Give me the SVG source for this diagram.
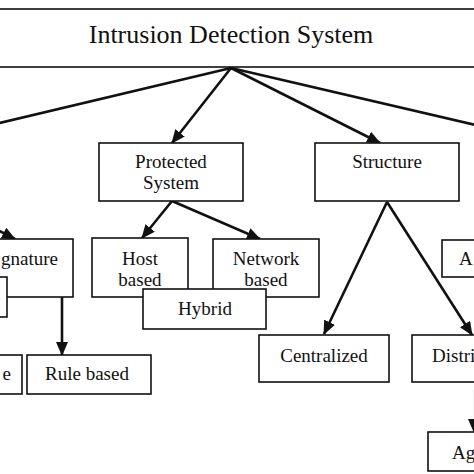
<svg xmlns="http://www.w3.org/2000/svg" width="474" height="474" viewBox="0 0 474 474">
<style>
.box{fill:#fff;stroke:#111;stroke-width:1.6}
.t{font-family:"Liberation Serif","Times New Roman",serif;font-size:19px;fill:#111;text-anchor:middle}
.c{stroke:#111;stroke-width:2.6;fill:none}
</style>
<defs>
<marker id="ah" markerUnits="userSpaceOnUse" markerWidth="14" markerHeight="12" refX="13" refY="6" orient="auto">
<path d="M0,0 L14,6 L0,12 z" fill="#111"/>
</marker>
</defs>
<rect width="474" height="474" fill="#fff"/>
<g id="connectors">
<line class="c" x1="231" y1="68" x2="-5" y2="124"/>
<line class="c" x1="231" y1="68" x2="172" y2="143" marker-end="url(#ah)"/>
<line class="c" x1="231" y1="68" x2="380" y2="143" marker-end="url(#ah)"/>
<line class="c" x1="231" y1="68" x2="480" y2="126"/>
<line class="c" x1="172" y1="201" x2="142" y2="238" marker-end="url(#ah)"/>
<line class="c" x1="172" y1="201" x2="260" y2="239" marker-end="url(#ah)"/>
<line class="c" x1="-10" y1="226" x2="15" y2="239" marker-end="url(#ah)"/>
<line class="c" x1="62" y1="297" x2="62" y2="355" marker-end="url(#ah)"/>
<line class="c" x1="387" y1="202" x2="324" y2="334" marker-end="url(#ah)"/>
<line class="c" x1="387" y1="202" x2="472" y2="335" marker-end="url(#ah)"/>
<line x1="474" y1="390" x2="474" y2="432" stroke="#e4e4e4" stroke-width="1" marker-end="url(#ah)"/>
</g>
<g id="ids">
<rect class="box" x="-5" y="9" width="484" height="58"/>
<text class="t" x="231" y="43" style="font-size:26px">Intrusion Detection System</text>
</g>
<g id="protected">
<rect class="box" x="99" y="143" width="144" height="58"/>
<text class="t" x="171" y="168">Protected</text>
<text class="t" x="171" y="189">System</text>
</g>
<g id="structure">
<rect class="box" x="315" y="143" width="144" height="58"/>
<text class="t" x="387" y="168">Structure</text>
</g>
<g id="signature">
<rect class="box" x="-20" y="239" width="93" height="58"/>
<text class="t" x="58" y="265" style="text-anchor:end">gnature</text>
</g>
<g id="sigchild">
<rect class="box" x="-20" y="277" width="27" height="40"/>
</g>
<g id="host">
<rect class="box" x="92" y="238" width="96" height="59"/>
<text class="t" x="140" y="265">Host</text>
<text class="t" x="140" y="286">based</text>
</g>
<g id="network">
<rect class="box" x="213" y="239" width="106" height="58"/>
<text class="t" x="266" y="265">Network</text>
<text class="t" x="266" y="286">based</text>
</g>
<g id="hybrid">
<rect class="box" x="143" y="289" width="123" height="40"/>
<text class="t" x="205" y="315">Hybrid</text>
</g>
<g id="a-node">
<rect class="box" x="442" y="240" width="40" height="37"/>
<text class="t" x="459" y="265" style="text-anchor:start">A</text>
</g>
<g id="leftleaf">
<rect class="box" x="-40" y="355" width="62" height="39"/>
<text class="t" x="11" y="380" style="text-anchor:end">e</text>
</g>
<g id="rulebased">
<rect class="box" x="27" y="355" width="124" height="39"/>
<text class="t" x="87" y="380">Rule based</text>
</g>
<g id="centralized">
<rect class="box" x="259" y="335" width="130" height="47"/>
<text class="t" x="324" y="362">Centralized</text>
</g>
<g id="distributed">
<rect class="box" x="412" y="335" width="70" height="47"/>
<text class="t" x="432" y="362" style="text-anchor:start">Distri</text>
</g>
<g id="ag">
<rect class="box" x="428" y="432" width="54" height="39"/>
<text class="t" x="452" y="459" style="text-anchor:start">Ag</text>
</g>
</svg>
